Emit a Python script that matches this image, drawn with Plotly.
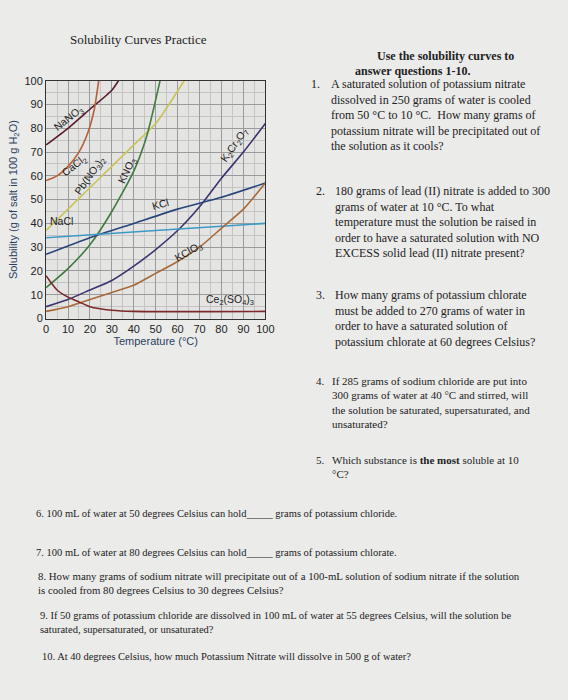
import plotly.graph_objects as go

# solubility curves (temperature degC -> g per 100 g water)
nano3_t = [0, 10, 20, 30, 33]
nano3_s = [73, 80, 88, 96, 100]
cacl2_t = [0, 5, 10, 15, 19, 22, 24]
cacl2_s = [58, 60, 64, 70, 78, 88, 100]
pbno3_t = [0, 10, 20, 30, 40, 50, 63]
pbno3_s = [37, 46, 55, 64, 73, 82, 100]
kno3_t = [0, 10, 20, 30, 40, 46, 52]
kno3_s = [13, 21, 31, 45, 62, 77, 100]
k2cr2o7_t = [0, 10, 20, 30, 40, 50, 60, 70, 80, 90, 100]
k2cr2o7_s = [5, 8, 12, 16, 22, 29, 37, 47, 59, 70, 82]
kcl_t = [0, 20, 40, 60, 80, 100]
kcl_s = [27, 34, 40, 46, 51, 57]
nacl_t = [0, 50, 100]
nacl_s = [34, 37, 40]
kclo3_t = [0, 10, 20, 30, 40, 50, 60, 70, 80, 90, 100]
kclo3_s = [3, 5, 8, 11, 14, 19, 24, 30, 38, 46, 57]
ce_t = [0, 5, 10, 15, 20, 30, 40, 100]
ce_s = [18, 12, 9, 7, 5, 3.5, 3, 3]

curves = [
    ("NaNO3", nano3_t, nano3_s, "#5a1d2e"),
    ("CaCl2", cacl2_t, cacl2_s, "#b5603a"),
    ("Pb(NO3)2", pbno3_t, pbno3_s, "#c9c25a"),
    ("KNO3", kno3_t, kno3_s, "#3f7a3f"),
    ("K2Cr2O7", k2cr2o7_t, k2cr2o7_s, "#3a3470"),
    ("KCl", kcl_t, kcl_s, "#27457a"),
    ("NaCl", nacl_t, nacl_s, "#3d9ac4"),
    ("KClO3", kclo3_t, kclo3_s, "#a86a3a"),
    ("Ce2(SO4)3", ce_t, ce_s, "#7a2a2a"),
]

fig = go.Figure()
for name, t, s, c in curves:
    fig.add_trace(go.Scatter(x=t, y=s, mode="lines", line=dict(color=c, width=1.6, shape="spline", smoothing=0.6),
                             name=name, showlegend=False))

sans = "Liberation Sans"
serif = "Liberation Serif"
labels = [
    ("NaNO<sub>3</sub>", 10, 84, -38),
    ("CaCl<sub>2</sub>", 13, 64, -38),
    ("Pb(NO<sub>3</sub>)<sub>2</sub>", 20, 60, -55),
    ("KNO<sub>3</sub>", 37, 62, -65),
    ("K<sub>2</sub>Cr<sub>2</sub>O<sub>7</sub>", 86, 73, -55),
    ("KCl", 52, 48, -15),
    ("NaCl", 7, 41, 0),
    ("KClO<sub>3</sub>", 65, 28, -30),
    ("Ce<sub>2</sub>(SO<sub>4</sub>)<sub>3</sub>", 84, 8, 0),
]
for txt, x, y, ang in labels:
    fig.add_annotation(x=x, y=y, text=txt, showarrow=False, textangle=ang,
                       font=dict(family=sans, size=10.5, color="#222"))

def note(x, y, text, size=12, bold=False):
    if bold:
        text = "<b>" + text + "</b>"
    fig.add_annotation(xref="paper", yref="paper", x=x / 568, y=1 - y / 700, text=text,
                       showarrow=False, xanchor="left", yanchor="top", align="left",
                       font=dict(family=serif, size=size, color="#222"))

note(66, 24, "Solubility Curves Practice", 13)
note(380, 42, "Use the solubility curves to", 12, True)
note(358, 57, "answer questions 1-10.", 12, True)
note(313, 70, "1.")
note(333, 70, "A saturated solution of potassium nitrate<br>dissolved in 250 grams of water is cooled<br>"
     "from 50 °C to 10 °C.  How many grams of<br>potassium nitrate will be precipitated out of<br>the solution as it cools?")
note(318, 179, "2.")
note(337, 179, "180 grams of lead (II) nitrate is added to 300<br>grams of water at 10 °C. To what<br>"
     "temperature must the solution be raised in<br>order to have a saturated solution with NO<br>"
     "EXCESS solid lead (II) nitrate present?")
note(318, 285, "3.")
note(337, 285, "How many grams of potassium chlorate<br>must be added to 270 grams of water in<br>"
     "order to have a saturated solution of<br>potassium chlorate at 60 degrees Celsius?")
note(318, 373, "4.", 11)
note(334, 373, "If 285 grams of sodium chloride are put into<br>300 grams of water at 40 °C and stirred, will<br>"
     "the solution be saturated, supersaturated, and<br>unsaturated?", 11)
note(318, 454, "5.", 11)
note(334, 454, "Which substance is <b>the most</b> soluble at 10<br>°C?", 11)
note(32, 509, "6. 100 mL of water at 50 degrees Celsius can hold_____ grams of potassium chloride.", 10.5)
note(32, 548, "7. 100 mL of water at 80 degrees Celsius can hold_____ grams of potassium chlorate.", 10.5)
note(34, 572, "8. How many grams of sodium nitrate will precipitate out of a 100-mL solution of sodium nitrate if the solution<br>"
     "is cooled from 80 degrees Celsius to 30 degrees Celsius?", 10.8)
note(36, 613, "9. If 50 grams of potassium chloride are dissolved in 100 mL of water at 55 degrees Celsius, will the solution be<br>"
     "saturated, supersaturated, or unsaturated?", 10.5)
note(38, 654, "10. At 40 degrees Celsius, how much Potassium Nitrate will dissolve in 500 g of water?", 10.5)

axis_common = dict(range=[0, 100], dtick=10, showgrid=True, gridcolor="#9a9a9a", gridwidth=1,
                   minor=dict(dtick=5, showgrid=True, gridcolor="#c4c4c4"),
                   showline=True, linecolor="#333", linewidth=1.2, mirror=True, zeroline=False,
                   tickfont=dict(family=sans, size=11, color="#222"), ticks="")
fig.update_layout(
    width=568, height=700, margin=dict(l=0, r=0, t=0, b=0),
    paper_bgcolor="#ebebea", plot_bgcolor="#e4e4e2",
    xaxis=dict(domain=[44 / 568, 268 / 568],
               title=dict(text="Temperature (°C)", font=dict(family=sans, size=11), standoff=2),
               **axis_common),
    yaxis=dict(domain=[1 - 318 / 700, 1 - 76 / 700],
               title=dict(text="Solubility (g of salt in 100 g H<sub>2</sub>O)",
                          font=dict(family=sans, size=11), standoff=4),
               **axis_common),
)
fig.write_html("out.html", config={"displayModeBar": False},
               post_script="document.body.style.margin='0';")
